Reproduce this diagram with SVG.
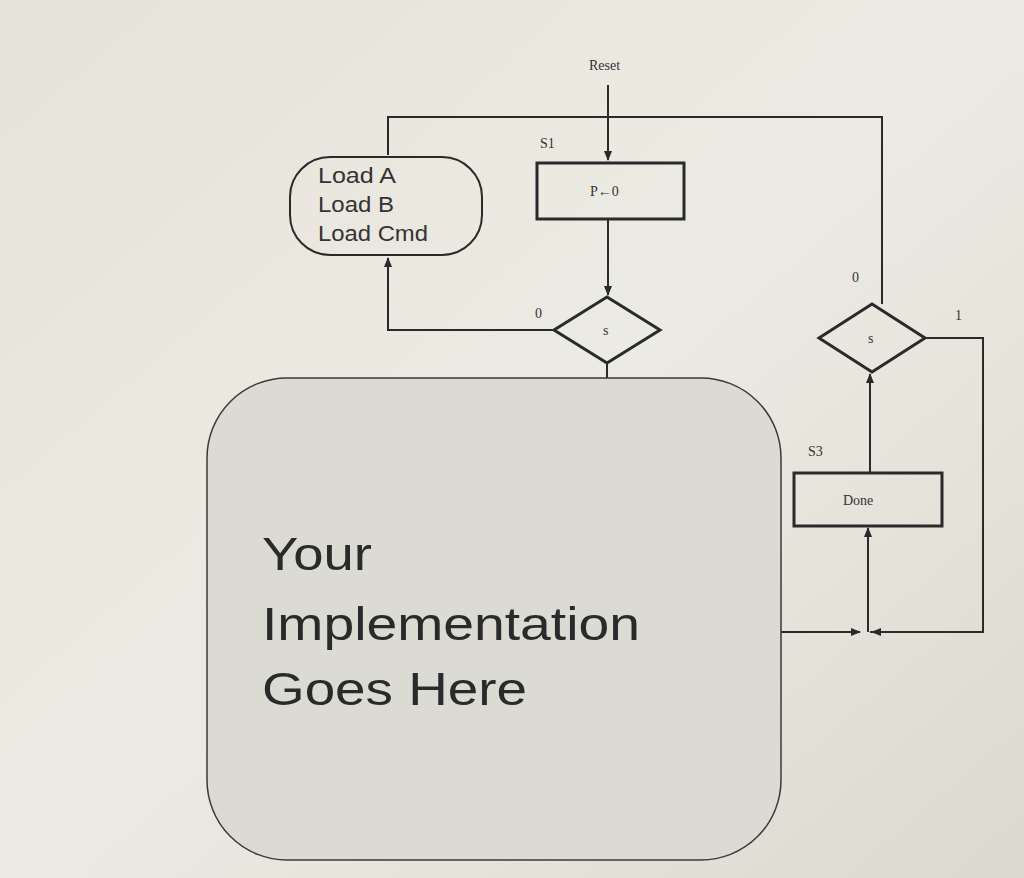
<svg xmlns="http://www.w3.org/2000/svg" width="1024" height="878" viewBox="0 0 1024 878">
<defs>
<marker id="ah" markerWidth="10" markerHeight="10" refX="9" refY="5" orient="auto" markerUnits="userSpaceOnUse"><path d="M0,1 L10,5 L0,9 z" fill="#2a2a2a"/></marker>
<linearGradient id="bg" x1="0" y1="0" x2="1" y2="1"><stop offset="0" stop-color="#e6e3d8"/><stop offset="0.5" stop-color="#ecebe3"/><stop offset="1" stop-color="#dcd9cf"/></linearGradient>
</defs>
<style>
.ln{fill:none;stroke:#2a2a2a;stroke-width:2}
.bx{fill:none;stroke:#2a2a2a;stroke-width:3}
.sm{font-family:"Liberation Serif",serif;font-size:14px;fill:#333}
.ld{font-family:"Liberation Sans",sans-serif;font-size:22px;fill:#333}
.big{font-family:"Liberation Sans",sans-serif;font-size:47px;fill:#2a2a2a}
</style>
<rect width="1024" height="878" fill="url(#bg)"/>
<g id="connectors">
<path class="ln" d="M608,85 V160" marker-end="url(#ah)"/>
<path class="ln" d="M388,155 V117 H882 V304"/>
<path class="ln" d="M608,219 V295" marker-end="url(#ah)"/>
<path class="ln" d="M554,330 H388 V258" marker-end="url(#ah)"/>
<path class="ln" d="M607,363 V380"/>
<path class="ln" d="M925,338 H983 V632 H870"/>
<path class="ln" d="M781,632 H860" marker-end="url(#ah)"/>
<path class="ln" d="M980,632 H872" marker-end="url(#ah)"/>
<path class="ln" d="M868,632 V528" marker-end="url(#ah)"/>
<path class="ln" d="M870,473 V374" marker-end="url(#ah)"/>
<text class="sm" x="535" y="318">0</text>
<text class="sm" x="852" y="282">0</text>
<text class="sm" x="955" y="320">1</text>
</g>
<g id="reset"><text class="sm" x="589" y="70">Reset</text></g>
<g id="s1"><text class="sm" x="540" y="148">S1</text>
<rect class="bx" x="537" y="163" width="147" height="56"/>
<text class="sm" x="590" y="196">P←0</text></g>
<g id="load"><rect class="ln" x="290" y="157" width="192" height="98" rx="40" fill="none"/>
<text class="ld" x="318" y="183" textLength="78" lengthAdjust="spacingAndGlyphs">Load A</text><text class="ld" x="318" y="212" textLength="76" lengthAdjust="spacingAndGlyphs">Load B</text><text class="ld" x="318" y="241" textLength="110" lengthAdjust="spacingAndGlyphs">Load Cmd</text></g>
<g id="d1"><path class="bx" d="M607,297 L660,330 L607,363 L554,330 Z"/><text class="sm" x="603" y="335" font-size="10">s</text></g>
<g id="d2"><path class="bx" d="M872,304 L925,338 L872,372 L819,338 Z"/><text class="sm" x="868" y="343" font-size="10">s</text></g>
<g id="s3"><text class="sm" x="808" y="456">S3</text>
<rect class="bx" x="794" y="473" width="148" height="53"/>
<text class="sm" x="843" y="505">Done</text></g>
<g id="impl"><rect x="207" y="378" width="574" height="482" rx="80" fill="#dcdbd3" stroke="#3a3a3a" stroke-width="1.5"/>
<text class="big" x="262" y="570" textLength="110" lengthAdjust="spacingAndGlyphs">Your</text><text class="big" x="262" y="640" textLength="378" lengthAdjust="spacingAndGlyphs">Implementation</text><text class="big" x="262" y="705" textLength="265" lengthAdjust="spacingAndGlyphs">Goes Here</text></g>
</svg>
